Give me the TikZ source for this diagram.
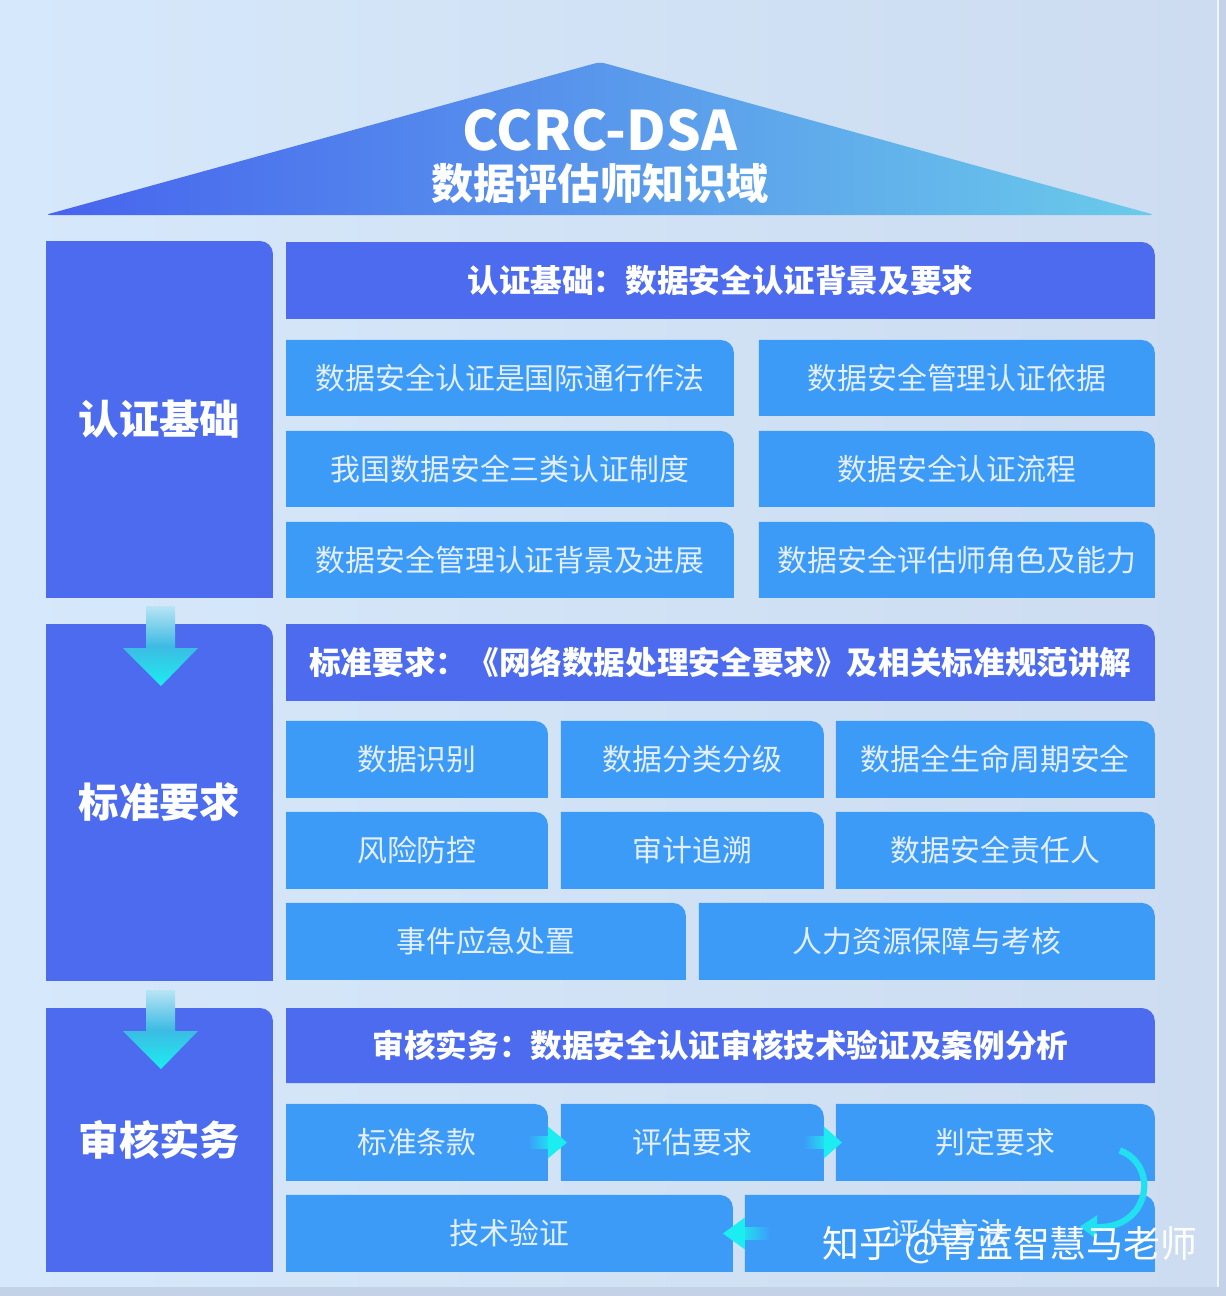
\documentclass[tikz,border=0pt]{standalone}
\usepackage{fontspec}
\setmainfont{Noto Sans CJK SC}
\usetikzlibrary{arrows.meta,positioning,backgrounds}

\definecolor{PageLeft}{HTML}{D6E8FB}
\definecolor{PageRight}{HTML}{CDDCF0}
\definecolor{EdgeBg}{HTML}{C4D2E8}
\definecolor{DeepBlue}{HTML}{4C6BEF}
\definecolor{CellBlue}{HTML}{3D9BF8}
\definecolor{CellText}{HTML}{E4EFFE}
\definecolor{RoofLeft}{HTML}{4763EE}
\definecolor{RoofMid}{HTML}{4F80EC}
\definecolor{RoofRight}{HTML}{6ACBEA}
\definecolor{Glow}{HTML}{1CEDF0}
\definecolor{GlowMid}{HTML}{3DBBE3}
\definecolor{GlowPale}{HTML}{B8E4F4}

% box with only the top right corner rounded
\newcommand\boxfill[2]{\fill[#1] (#2.south west) -- (#2.north west) -- ([xshift=-0.26cm]#2.north east) arc[start angle=90,end angle=0,radius=0.26cm] -- (#2.south east) -- cycle;}
% small glowing chevron between two cells
\newcommand\glowright[2]{%
  \shade[left color=CellBlue,right color=Glow!80!CellBlue] ([xshift=-0.4cm,yshift=-0.12cm]#1.east) rectangle ([yshift=0.12cm]#1.east);
  \fill[Glow] ([yshift=0.32cm]#1.east) -- ([xshift=0.12cm]#2.west) -- ([yshift=-0.32cm]#1.east) -- cycle;}
\newcommand\glowleft[2]{%
  \shade[right color=CellBlue,left color=Glow!80!CellBlue] ([xshift=0.5cm,yshift=-0.12cm]#1.west) rectangle ([yshift=0.12cm]#1.west);
  \fill[Glow] ([yshift=0.32cm]#1.west) -- ([xshift=-0.2cm]#2.east) -- ([yshift=-0.32cm]#1.west) -- cycle;}

\begin{document}
\begin{tikzpicture}[x=0.02cm,y=-0.02cm,
		Lab/.style={inner sep=0pt,outer sep=0pt,minimum width=4.54cm,text=white,font=\fontsize{23}{28}\selectfont\bfseries},
		Head/.style={inner sep=0pt,outer sep=0pt,minimum width=17.38cm,minimum height=1.54cm,text=white,font=\fontsize{18}{22}\selectfont\bfseries},
		Cell/.style={inner sep=0pt,outer sep=0pt,minimum height=1.54cm,text=CellText,font=\fontsize{17}{20}\selectfont},
		Drop/.style={top color=GlowPale,bottom color=Glow,middle color=GlowMid},
		Curl/.style={-{Triangle[length=0.34cm,width=0.46cm]},line width=3.6pt,Glow!85!CellBlue}]
		\useasboundingbox (0,0) rectangle (1226,1296);
		% roof
		\shade[left color=RoofLeft,middle color=RoofMid,right color=RoofRight,rounded corners=3pt]
			(45,215) -- (600,62) -- (1155,215) -- cycle;
		\node[text=white,font=\fontsize{31}{36}\selectfont\bfseries] (Title) at (600,130) {CCRC-DSA};
		\node[text=white,font=\fontsize{24}{28}\selectfont\bfseries] (Subtitle) at (600,184) {数据评估师知识域};
		% nodes: 认证基础
		\node[Lab,minimum height=7.14cm,anchor=north west] (Found) at (46,241) {认证基础};
		\node[Head,anchor=north west] (FoundHead) at (286,242) {认证基础：数据安全认证背景及要求};
		\node[Cell,minimum width=8.96cm,minimum height=1.52cm] (F1) [below=0.42cm of FoundHead.south west,anchor=north west] {数据安全认证是国际通行作法};
		\node[Cell,minimum width=7.92cm,minimum height=1.52cm] (F2) [right=0.5cm of F1] {数据安全管理认证依据};
		\node[Cell,minimum width=8.96cm,minimum height=1.52cm] (F3) [below=0.3cm of F1] {我国数据安全三类认证制度};
		\node[Cell,minimum width=7.92cm,minimum height=1.52cm] (F4) [right=0.5cm of F3] {数据安全认证流程};
		\node[Cell,minimum width=8.96cm,minimum height=1.52cm] (F5) [below=0.3cm of F3] {数据安全管理认证背景及进展};
		\node[Cell,minimum width=7.92cm,minimum height=1.52cm] (F6) [right=0.5cm of F5] {数据安全评估师角色及能力};
		% nodes: 标准要求
		\node[Lab,minimum height=7.14cm,anchor=north west] (Std) at (46,624) {标准要求};
		\node[Head,anchor=north west] (StdHead) at (286,624) {标准要求：《网络数据处理安全要求》及相关标准规范讲解};
		\node[Cell,minimum width=5.24cm] (S1) [below=0.4cm of StdHead.south west,anchor=north west] {数据识别};
		\node[Cell,minimum width=5.26cm] (S2) [right=0.26cm of S1] {数据分类分级};
		\node[Cell,minimum width=6.38cm] (S3) [right=0.24cm of S2] {数据全生命周期安全};
		\node[Cell,minimum width=5.24cm] (S4) [below=0.28cm of S1] {风险防控};
		\node[Cell,minimum width=5.26cm] (S5) [right=0.26cm of S4] {审计追溯};
		\node[Cell,minimum width=6.38cm] (S6) [right=0.24cm of S5] {数据安全责任人};
		\node[Cell,minimum width=8cm] (S7) [below=0.28cm of S4.south west,anchor=north west] {事件应急处置};
		\node[Cell,minimum width=9.12cm] (S8) [right=0.26cm of S7] {人力资源保障与考核};
		% nodes: 审核实务
		\node[Lab,minimum height=5.28cm,anchor=north west] (Audit) at (46,1008) {审核实务};
		\node[Head,minimum height=1.5cm,anchor=north west] (AuditHead) at (286,1008) {审核实务：数据安全认证审核技术验证及案例分析};
		\node[Cell,minimum width=5.24cm] (A1) [below=0.42cm of AuditHead.south west,anchor=north west] {标准条款};
		\node[Cell,minimum width=5.26cm] (A2) [right=0.26cm of A1] {评估要求};
		\node[Cell,minimum width=6.38cm] (A3) [right=0.24cm of A2] {判定要求};
		\node[Cell,minimum width=8.94cm] (A4) [below=0.28cm of A1.south west,anchor=north west] {技术验证};
		\node[Cell,minimum width=8.2cm] (A5) [right=0.24cm of A4] {评估方法};
		% box fills
		\begin{scope}[on background layer]
			\shade[left color=PageLeft,right color=PageRight] (0,0) rectangle (1226,1296);
			\fill[EdgeBg] (1219,0) rectangle (1226,1296);
			\fill[EdgeBg] (0,1287) rectangle (1226,1296);
			\draw[white!70!PageRight,line width=1pt] (1218,0) -- (1218,1287);
			\foreach \n in {Found,Std,Audit,FoundHead,StdHead,AuditHead}{
				\boxfill{DeepBlue}{\n}
			}
			\foreach \n in {F1,F2,F3,F4,F5,F6,S1,S2,S3,S4,S5,S6,S7,S8,A1,A2,A3,A4,A5}{
				\boxfill{CellBlue}{\n}
			}
		\end{scope}
		% connections
		\shade[Drop] (146,606) -- (175,606) -- (175,648) -- (198,648) -- (161,686) -- (123,648) -- (146,648) -- cycle;
		\shade[Drop] (146,990) -- (175,990) -- (175,1031) -- (198,1031) -- (161,1069) -- (123,1031) -- (146,1031) -- cycle;
		\glowright{A1}{A2}
		\glowright{A2}{A3}
		\glowleft{A5}{A4}
		\coordinate (CurlFrom) at ([xshift=-0.7cm,yshift=-0.16cm]A3.east);
		\coordinate (CurlTo) at ([xshift=-1.5cm,yshift=0.14cm]A5.east);
		\draw[Curl] (CurlFrom) .. controls +(0.8cm,-0.3cm) and +(1.4cm,-0.06cm) .. (CurlTo);
		% watermark
		\node[text=white,font=\fontsize{21}{24}\selectfont] (Mark) at (1010,1245) {知乎 @青蓝智慧马老师};
	\end{tikzpicture}
\end{document}
